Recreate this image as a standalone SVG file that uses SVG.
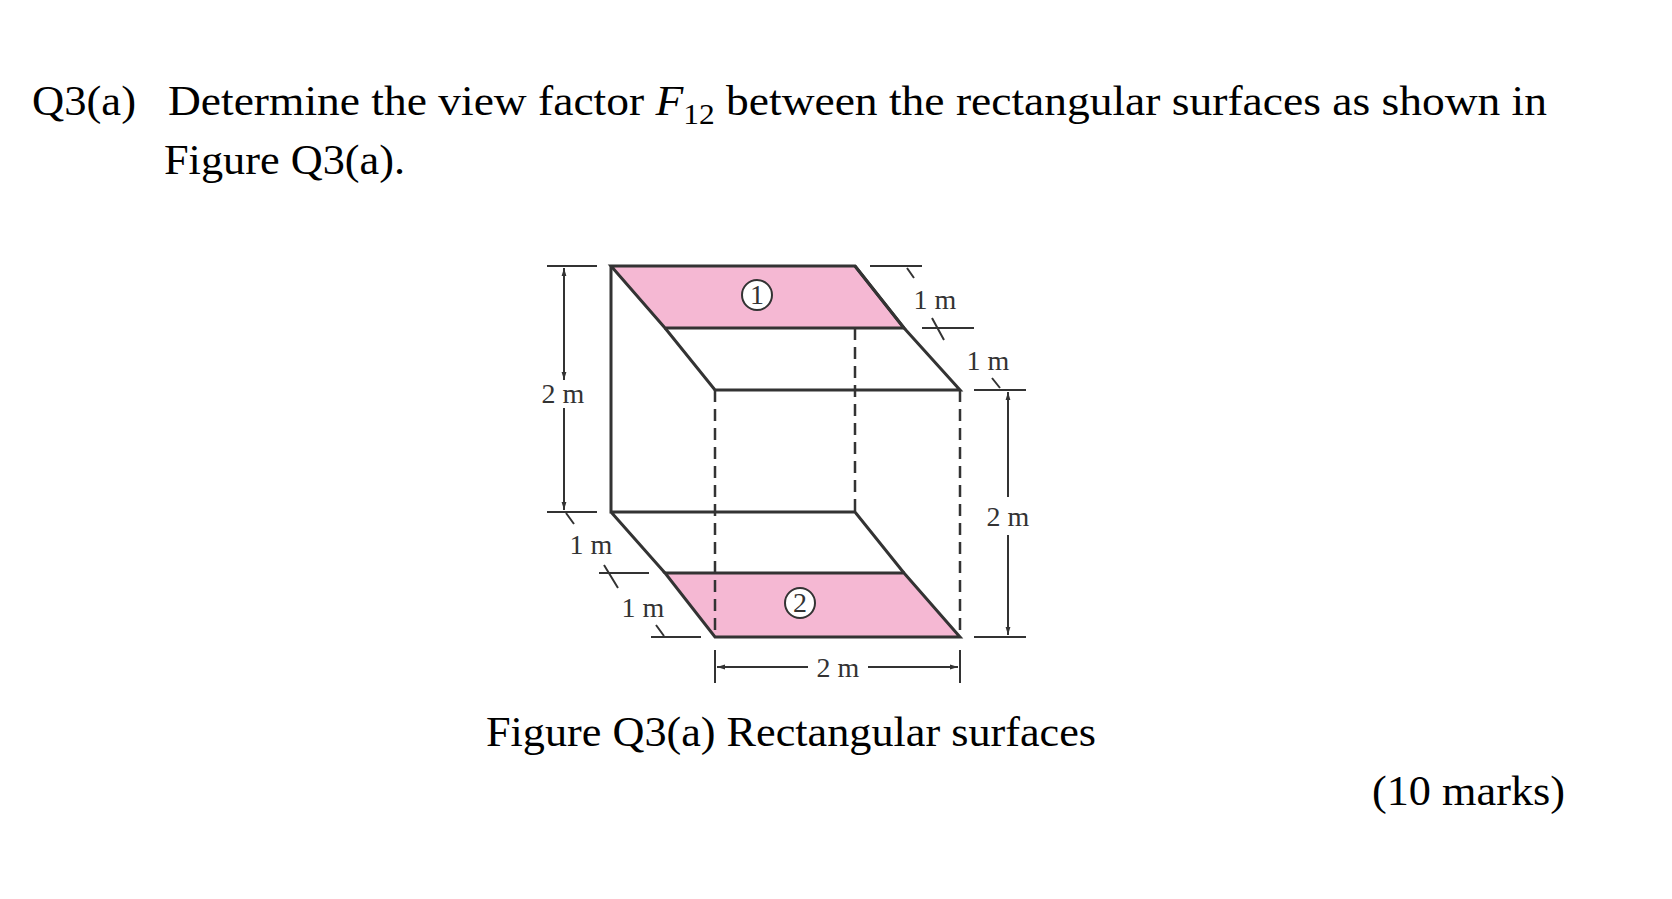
<svg xmlns="http://www.w3.org/2000/svg" width="1672" height="899" viewBox="0 0 1672 899">
<defs>
<marker id="ar" viewBox="0 0 10 10" refX="10" refY="5" markerWidth="8" markerHeight="8" orient="auto-start-reverse" markerUnits="userSpaceOnUse"><path d="M0,2 L10,5 L0,8 Z" fill="#333"/></marker>
<style>
.t{font-family:"Liberation Serif","Times New Roman",serif;fill:#000}
.d{font-family:"Liberation Serif","Times New Roman",serif;fill:#333;font-size:28px;text-anchor:middle}
.e{stroke:#333;stroke-width:3;fill:none}
.dash{stroke:#333;stroke-width:2.5;stroke-dasharray:12,7;fill:none}
.dim{stroke:#333;stroke-width:2;fill:none}
.sf{fill:#f5b8d3;stroke:#333;stroke-width:3}
</style>
</defs>
<rect width="1672" height="899" fill="#fff"/>
<text class="t" x="32" y="115" font-size="42" textLength="104" lengthAdjust="spacingAndGlyphs">Q3(a)</text>
<text class="t" x="168" y="115" font-size="42" textLength="1379" lengthAdjust="spacingAndGlyphs">Determine the view factor <tspan font-style="italic">F</tspan><tspan font-size="29" dy="9">12</tspan><tspan dy="-9"> between the rectangular surfaces as shown in</tspan></text>
<text class="t" x="164" y="174" font-size="42" textLength="241" lengthAdjust="spacingAndGlyphs">Figure Q3(a).</text>
<g id="surface1"><path class="sf" d="M611,266 L855,266 L904,328 L665,328 Z"/><circle cx="757" cy="295" r="15" fill="#fff" stroke="#333" stroke-width="2"/><text class="d" x="757" y="304" font-size="24">1</text></g>
<g id="surface2"><path class="sf" d="M665,573 L904,573 L960,637 L715,637 Z"/><circle cx="800" cy="603" r="15" fill="#fff" stroke="#333" stroke-width="2"/><text class="d" x="800" y="612" font-size="24">2</text></g>
<g id="box">
<path class="e" d="M611,266 L611,512 L855,512 L904,573 M611,512 L665,573 M665,328 L715,390 L960,390 L904,328 M855,266 L904,328"/>
<path class="dash" d="M855,328 V512 M715,390 V637 M960,390 V637"/>
</g>
<g id="dims">
<path class="dim" d="M547,266 H597 M547,512 H597 M974,390 H1026 M974,637 H1026 M715,650 V683 M960,650 V683 M870,266 H922 M922,328 H974 M599,573 H649 M651,637 H701"/>
<path class="dim" marker-start="url(#ar)" marker-end="url(#ar)" d="M564,268 V380"/>
<path class="dim" marker-end="url(#ar)" d="M564,408 V510"/>
<path class="dim" marker-start="url(#ar)" d="M1008,392 V497"/>
<path class="dim" marker-end="url(#ar)" d="M1008,535 V635"/>
<path class="dim" marker-start="url(#ar)" d="M717,667 H808"/>
<path class="dim" marker-end="url(#ar)" d="M868,667 H958"/>
<path class="dim" d="M907,268 L914,278 M932,318 L944,340 M992,378 L1000,388 M566,513 L574,524 M604,565 L618,588 M656,625 L664,636"/>
<text class="d" x="563" y="403">2 m</text>
<text class="d" x="1008" y="526">2 m</text>
<text class="d" x="838" y="677">2 m</text>
<text class="d" x="935" y="309">1 m</text>
<text class="d" x="988" y="370">1 m</text>
<text class="d" x="591" y="554">1 m</text>
<text class="d" x="643" y="617">1 m</text>
</g>
<text class="t" x="486" y="746" font-size="42" textLength="610" lengthAdjust="spacingAndGlyphs">Figure Q3(a) Rectangular surfaces</text>
<text class="t" x="1372" y="805" font-size="42" textLength="193" lengthAdjust="spacingAndGlyphs">(10 marks)</text>
</svg>
